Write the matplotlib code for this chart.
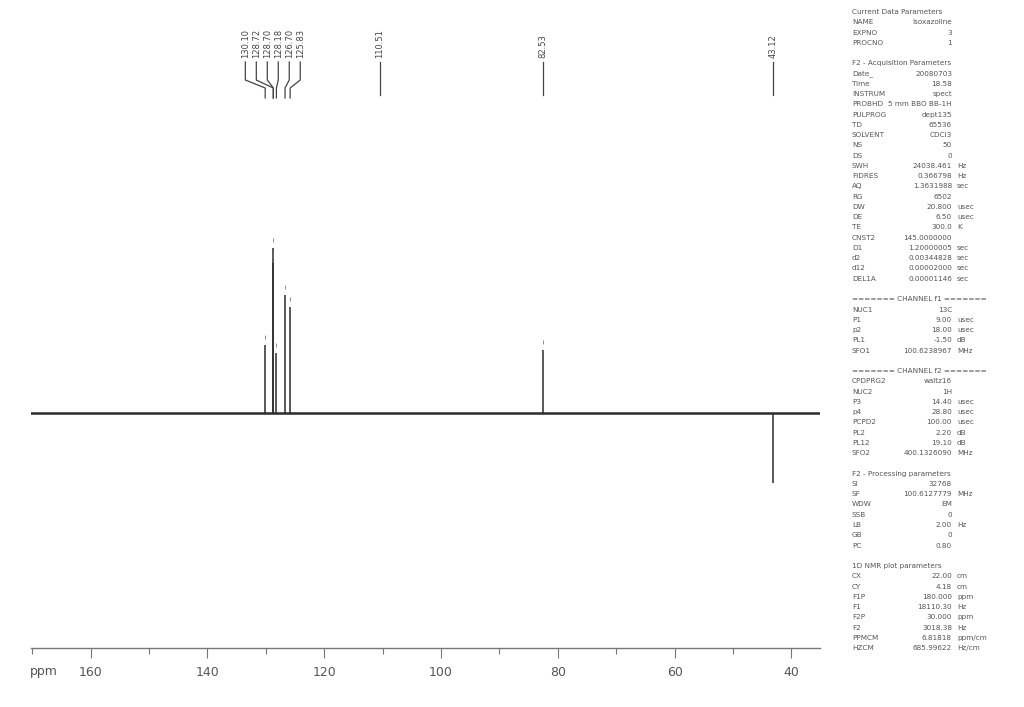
import matplotlib.pyplot as plt

# peak list (ppm) and heights (baseline = 0)
peak_ppm = [130.10, 128.72, 128.70, 128.18, 126.70, 125.83, 110.51, 82.53, 43.12]
peak_height = [68, 165, 150, 60, 118, 106, 0, 63, -70]

group_labels = ["130.10", "128.72", "128.70", "128.18", "126.70", "125.83"]
single_labels = ["110.51", "82.53", "43.12"]

tick_major = [160, 140, 120, 100, 80, 60, 40]

params = [
    ("Current Data Parameters",),
    ("NAME", "Isoxazoline", ""),
    ("EXPNO", "3", ""),
    ("PROCNO", "1", ""),
    (),
    ("F2 - Acquisition Parameters",),
    ("Date_", "20080703", ""),
    ("Time", "18.58", ""),
    ("INSTRUM", "spect", ""),
    ("PROBHD", "5 mm BBO BB-1H", ""),
    ("PULPROG", "dept135", ""),
    ("TD", "65536", ""),
    ("SOLVENT", "CDCl3", ""),
    ("NS", "50", ""),
    ("DS", "0", ""),
    ("SWH", "24038.461", "Hz"),
    ("FIDRES", "0.366798", "Hz"),
    ("AQ", "1.3631988", "sec"),
    ("RG", "6502", ""),
    ("DW", "20.800", "usec"),
    ("DE", "6.50", "usec"),
    ("TE", "300.0", "K"),
    ("CNST2", "145.0000000", ""),
    ("D1", "1.20000005", "sec"),
    ("d2", "0.00344828", "sec"),
    ("d12", "0.00002000", "sec"),
    ("DEL1A", "0.00001146", "sec"),
    (),
    ("======= CHANNEL f1 =======",),
    ("NUC1", "13C", ""),
    ("P1", "9.00", "usec"),
    ("p2", "18.00", "usec"),
    ("PL1", "-1.50", "dB"),
    ("SFO1", "100.6238967", "MHz"),
    (),
    ("======= CHANNEL f2 =======",),
    ("CPDPRG2", "waltz16", ""),
    ("NUC2", "1H", ""),
    ("P3", "14.40", "usec"),
    ("p4", "28.80", "usec"),
    ("PCPD2", "100.00", "usec"),
    ("PL2", "2.20", "dB"),
    ("PL12", "19.10", "dB"),
    ("SFO2", "400.1326090", "MHz"),
    (),
    ("F2 - Processing parameters",),
    ("SI", "32768", ""),
    ("SF", "100.6127779", "MHz"),
    ("WDW", "EM", ""),
    ("SSB", "0", ""),
    ("LB", "2.00", "Hz"),
    ("GB", "0", ""),
    ("PC", "0.80", ""),
    (),
    ("1D NMR plot parameters",),
    ("CX", "22.00", "cm"),
    ("CY", "4.18", "cm"),
    ("F1P", "180.000", "ppm"),
    ("F1", "18110.30", "Hz"),
    ("F2P", "30.000", "ppm"),
    ("F2", "3018.38", "Hz"),
    ("PPMCM", "6.81818", "ppm/cm"),
    ("HZCM", "685.99622", "Hz/cm"),
]

W, H = 1024, 707
fig = plt.figure(figsize=(W / 100, H / 100), dpi=100)
fig.patch.set_facecolor("white")

# spectrum axes: pixel 31..820 horizontally, 20..648 vertically
ax = fig.add_axes([31 / W, (H - 648) / H, (820 - 31) / W, (648 - 20) / H])
ax.set_xlim(170.2, 35.1)
ax.set_ylim(-235, 393)
ink = "#2b2b2b"

ax.axhline(0, color=ink, lw=1.8)
for p, h in zip(peak_ppm, peak_height):
    if h != 0:
        ax.vlines(p, 0, h, color=ink, lw=1.1)
        if h > 0:
            ax.plot(p, h + 8, marker="|", ms=2.5, color="#777777", mew=0.6)

# peak labels on top
lab_kw = dict(rotation=90, ha="center", va="bottom", fontsize=6, color="#444444")
spacing = 1.88
centre = 128.8
n = len(group_labels)
for i, (lab, p) in enumerate(zip(group_labels, peak_ppm[:6])):
    lx = centre + (n - 1) / 2 * spacing - i * spacing
    ax.text(lx, 355, lab, **lab_kw)
    ax.plot([lx, lx, p, p], [351, 333, 325, 315], color="#444444", lw=0.9)
for lab, p in zip(single_labels, peak_ppm[6:]):
    ax.text(p, 355, lab, **lab_kw)
    ax.plot([p, p], [351, 318], color="#444444", lw=0.9)

for s in ["top", "left", "right"]:
    ax.spines[s].set_visible(False)
ax.spines["bottom"].set_color("#777777")
ax.spines["bottom"].set_linewidth(1.0)
ax.set_yticks([])
ax.set_xticks(tick_major)
ax.set_xticks(list(range(170, 35, -10)), minor=True)
ax.tick_params(axis="x", which="major", direction="out", length=7, width=0.8,
               color="#777777", labelsize=9, labelcolor="#555555", pad=6)
ax.tick_params(axis="x", which="minor", direction="out", length=4, width=0.8,
               color="#777777")
fig.text(30 / W, 1 - 671 / H, "ppm", fontsize=9, color="#555555", va="center")

# parameter block
y0, step = 12, 10.26
txt = dict(fontsize=5.2, color="#555555", va="center")
for i, row in enumerate(params):
    y = 1 - (y0 + i * step) / H
    if len(row) == 1:
        fig.text(852 / W, y, row[0], **txt)
    elif len(row) == 3:
        fig.text(852 / W, y, row[0], ha="left", **txt)
        fig.text(952 / W, y, row[1], ha="right", **txt)
        if row[2]:
            fig.text(957 / W, y, row[2], ha="left", **txt)

fig.savefig("out.png", dpi=100, facecolor="white")
